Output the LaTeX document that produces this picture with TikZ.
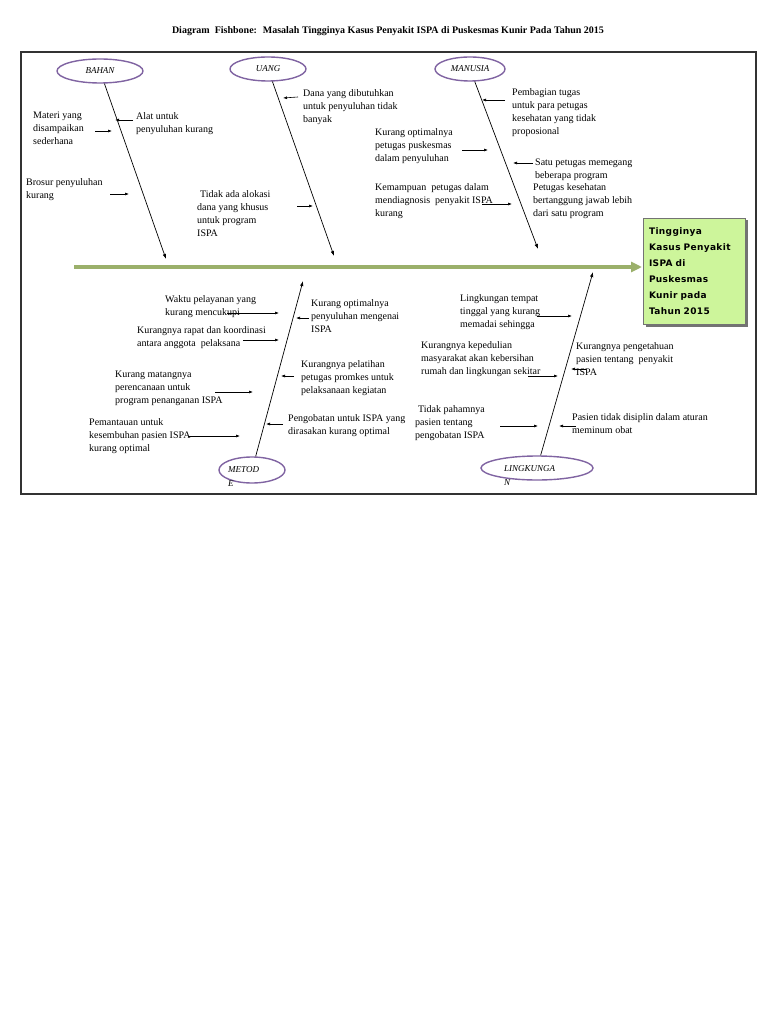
\documentclass[tikz,border=0pt]{standalone}
\usepackage{fontspec}
\setmainfont{Liberation Serif}
\newfontfamily\boxfont[LetterSpace=4]{DejaVu Sans}
\usetikzlibrary{arrows.meta,shapes.geometric,shadows}
\definecolor{spinegreen}{HTML}{9BB06B}
\definecolor{boxgreen}{HTML}{CDF59B}
\definecolor{ellpurple}{HTML}{8064A2}
\newcommand\cfont{\fontsize{10}{13}\selectfont}
\begin{document}
\begin{tikzpicture}[x=1pt,y=-1pt,
  cause/.style={font=\cfont, align=left, anchor=north west, inner sep=0pt, yshift=7pt},
  catell/.style={ellipse, draw=ellpurple, line width=1.4pt, fill=white, inner sep=0pt,
                 font=\itshape\fontsize{9}{13}\selectfont},
  cattext/.style={font=\itshape\fontsize{9}{14}\selectfont, align=left, anchor=north west, inner sep=0pt, yshift=6.3pt},
  bone/.style={line width=0.7pt, -{Latex[length=5pt,width=3.5pt]}},
  sub/.style={line width=0.6pt, -{Latex[length=4pt,width=3pt]}}]
\useasboundingbox (0,0) rectangle (768,1024);

% title
\node[font=\bfseries\fontsize{10}{12}\selectfont, anchor=base] (title) at (388,34)
  {\resizebox{432pt}{!}{Diagram~ Fishbone:~ Masalah Tingginya Kasus Penyakit ISPA di Puskesmas Kunir Pada Tahun 2015}};

% frame
\draw[line width=1.6pt, black!80] (21,52) rectangle (756,494);

% spine
\coordinate (spineS) at (74,267);
\coordinate (spineE) at (642,267);
\draw[line width=4pt, spinegreen, -{Triangle[length=11pt,width=10pt]}] (spineS) -- (spineE);

% effect box
\node[draw=black!55, line width=0.5pt, fill=boxgreen,
      drop shadow={shadow xshift=2.5pt, shadow yshift=-2.5pt, fill=black!55, opacity=1},
      minimum height=106pt, text width=90pt, inner xsep=6pt, inner ysep=0pt, align=left,
      font=\boxfont\bfseries\fontsize{9}{16}\selectfont] (effect) at (694,271)
  {Tingginya\\Kasus Penyakit\\ISPA di\\Puskesmas\\Kunir pada\\Tahun 2015};

% category ellipses
\node[catell, minimum width=86pt, minimum height=24pt] (bahan) at (100,71) {BAHAN};
\node[catell, minimum width=76pt, minimum height=24pt] (uang) at (268,69) {UANG};
\node[catell, minimum width=70pt, minimum height=24pt] (manusia) at (470,69) {MANUSIA};
\node[catell, minimum width=66pt, minimum height=26pt] (metode) at (252,470) {};
\node[catell, minimum width=112pt, minimum height=24pt] (lingkungan) at (537,468) {};
\node[cattext] (metodeText) at (228,473) {METOD\\E};
\node[cattext] (lingText) at (504,472) {LINGKUNGA\\N};

% bones
\coordinate (bahanTip) at (166,259);
\coordinate (uangTip) at (334,256);
\coordinate (manusiaTip) at (538,249);
\coordinate (metodeTip) at (303,281);
\coordinate (lingTip) at (593,272);
\draw[bone] (bahan) -- (bahanTip);
\draw[bone] (uang) -- (uangTip);
\draw[bone] (manusia) -- (manusiaTip);
\draw[bone] (metode) -- (metodeTip);
\draw[bone] (lingkungan) -- (lingTip);

% causes: BAHAN
\node[cause] (c1) at (33,119) {Materi yang\\disampaikan\\sederhana};
\node[cause] (c2) at (136,119) {Alat untuk\\penyuluhan kurang};
\node[cause] (c3) at (26,185) {Brosur penyuluhan\\kurang};
% UANG
\node[cause] (c4) at (303,96) {Dana yang dibutuhkan\\untuk penyuluhan tidak\\banyak};
\node[cause] (c5) at (197,197) {\hspace{3pt}Tidak ada alokasi\\dana yang khusus\\untuk program\\ISPA};
% MANUSIA
\node[cause] (c6) at (512,95) {Pembagian tugas\\untuk para petugas\\kesehatan yang tidak\\proposional};
\node[cause] (c7) at (375,135) {Kurang optimalnya\\petugas puskesmas\\dalam penyuluhan};
\node[cause] (c8) at (535,166) {Satu petugas memegang\\beberapa program};
\node[cause] (c9) at (375,190) {Kemampuan~ petugas dalam\\mendiagnosis~ penyakit ISPA\\kurang};
\node[cause] (c10) at (533,190) {Petugas kesehatan\\bertanggung jawab lebih\\dari satu program};
% METODE
\node[cause] (c11) at (165,302) {Waktu pelayanan yang\\kurang mencukupi};
\node[cause] (c12) at (311,306) {Kurang optimalnya\\penyuluhan mengenai\\ISPA};
\node[cause] (c13) at (137,333) {Kurangnya rapat dan koordinasi\\antara anggota~ pelaksana};
\node[cause] (c14) at (301,367) {Kurangnya pelatihan\\petugas promkes untuk\\pelaksanaan kegiatan};
\node[cause] (c15) at (115,378) {Kurang matangnya\\perencanaan untuk\\program penanganan ISPA};
\node[cause] (c16) at (288,421) {Pengobatan untuk ISPA yang\\dirasakan kurang optimal};
\node[cause] (c17) at (89,425) {Pemantauan untuk\\kesembuhan pasien ISPA\\kurang optimal};
% LINGKUNGAN
\node[cause] (c18) at (460,301) {Lingkungan tempat\\tinggal yang kurang\\memadai sehingga};
\node[cause] (c19) at (421,348) {Kurangnya kepedulian\\masyarakat akan kebersihan\\rumah dan lingkungan sekitar};
\node[cause] (c20) at (576,349) {Kurangnya pengetahuan\\pasien tentang~ penyakit\\ISPA};
\node[cause] (c21) at (415,412) {\hspace{3pt}Tidak pahamnya\\pasien tentang\\pengobatan ISPA};
\node[cause] (c22) at (572,420) {Pasien tidak disiplin dalam aturan\\meminum obat};

% sub-cause arrows
\foreach \n/\xa/\ya/\xb/\yb in {
  a1/95/131/112/131, a2/133/120/115/120, a3/110/194/129/194,
  a4/298/97/283/98, a5/297/206/313/206,
  a6/505/100/482/100, a7/462/150/488/150, a8/533/163/513/163, a9/482/204/512/204,
  a10/227/313/279/313, a11/309/318/296/318, a12/243/340/279/340,
  a13/294/376/281/376, a14/215/392/253/392, a15/283/424/266/424, a16/188/436/240/436,
  a17/537/316/572/316, a18/528/376/558/376, a19/586/369/571/369,
  a20/500/426/538/426, a21/576/426/559/426} {
  \coordinate (\n s) at (\xa,\ya);
  \coordinate (\n e) at (\xb,\yb);
  \draw[sub] (\n s) -- (\n e);
}
\end{tikzpicture}
\end{document}
